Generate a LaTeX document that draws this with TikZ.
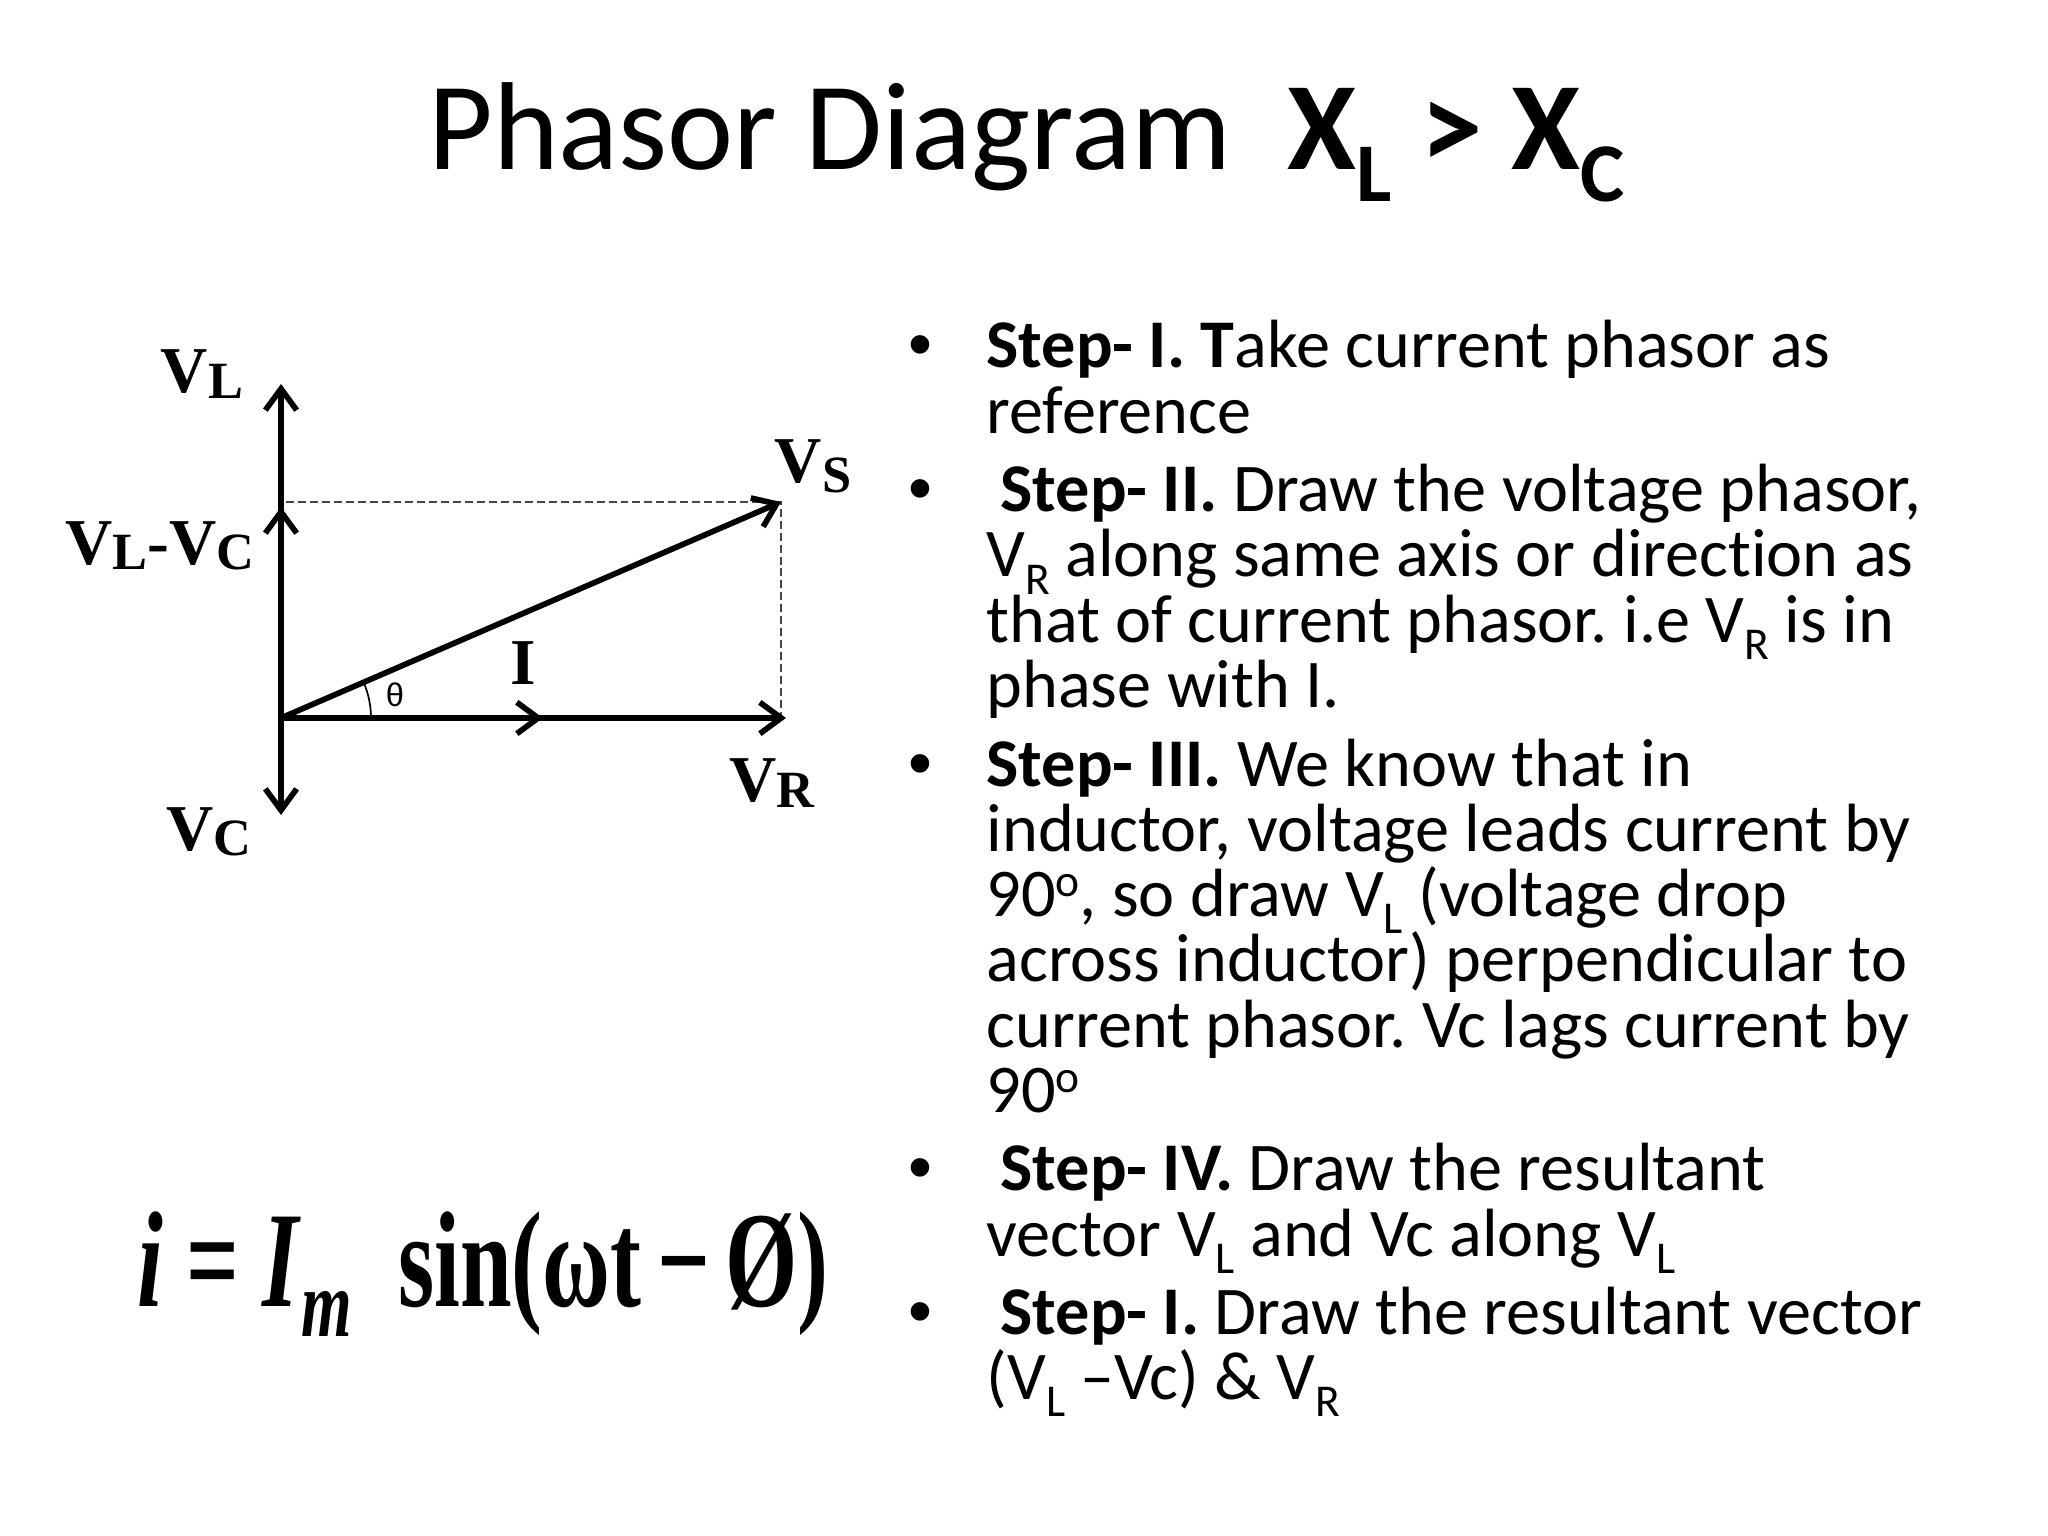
\documentclass[tikz,border=0pt]{standalone}
\usepackage{graphicx}
\usepackage{fontspec}
\setmainfont{Carlito}[Ligatures=NoCommon]
\newfontfamily\tnr{Liberation Serif}
\newfontfamily\arl{Liberation Sans}
\usetikzlibrary{arrows.meta}
\newcommand\psub[1]{\raisebox{-0.25em}{\scalebox{0.667}{#1}}}
\newcommand\psup[1]{\raisebox{0.3em}{\scalebox{0.667}{#1}}}
\newcommand\lsub[1]{\raisebox{-0.08em}{\scalebox{0.8}{#1}}}
\newcommand\bodyf{\fontsize{24}{23}\selectfont}
\newcommand\labf{\tnr\bfseries\fontsize{23}{23}\selectfont}
\frenchspacing
\tikzset{
  txt/.style={anchor=base west, inner sep=0pt, font=\bodyf},
  bul/.style={anchor=base west, inner sep=0pt, font=\arl\fontsize{24}{23}\selectfont},
  lab/.style={inner sep=0pt, font=\labf},
  ar/.style={line width=2pt, -{Straight Barb[length=7.5pt,width=11pt]}},
  dsh/.style={line width=1pt, draw=black!72, dash pattern=on 2.8pt off 1.4pt},
}
\begin{document}
\begin{tikzpicture}[x=0.3515625pt,y=-0.3515625pt]
\useasboundingbox (0,0) rectangle (2048,1536);
% title
\node[anchor=base west, inner sep=0pt, font=\fontsize{44}{44}\selectfont] (title) at (428,170)
  {Phasor Diagram\ \ \textbf{X\psub{L} > X\psub{C}}};
% body text
\node[bul] (b1) at (908,368) {•};
\node[txt] (l1) at (986,368) {\textbf{Step- I. T}ake current phasor as};
\node[txt] (l2) at (986,433.3) {reference};
\node[bul] (b2) at (908,511.7) {•};
\node[txt] (l3) at (1000,511.7) {\textbf{Step- II.} Draw the voltage phasor,};
\node[txt] (l4) at (986,577) {V\psub{R} along same axis or direction as};
\node[txt] (l5) at (986,642.3) {that of current phasor. i.e V\psub{R} is in};
\node[txt] (l6) at (986,707.6) {phase with I.};
\node[bul] (b3) at (908,786) {•};
\node[txt] (l7) at (986,786) {\textbf{Step- III.} We know that in};
\node[txt] (l8) at (986,851.3) {inductor, voltage leads current by};
\node[txt] (l9) at (986,916.6) {90\psup{o}, so draw V\psub{L} (voltage drop};
\node[txt] (l10) at (986,981.9) {across inductor) perpendicular to};
\node[txt] (l11) at (986,1047.2) {current phasor. Vc lags current by};
\node[txt] (l12) at (986,1112.5) {90\psup{o}};
\node[bul] (b4) at (908,1190.9) {•};
\node[txt] (l13) at (1000,1190.9) {\textbf{Step- IV.} Draw the resultant};
\node[txt] (l14) at (986,1256.2) {vector V\psub{L} and Vc along V\psub{L}};
\node[bul] (b5) at (908,1334.6) {•};
\node[txt] (l15) at (1000,1334.6) {\textbf{Step- I.} Draw the resultant vector};
\node[txt] (l16) at (986,1399.9) {(V\psub{L} –Vc) \& V\psub{R}};
% phasor diagram
\coordinate (O) at (281,718);
\coordinate (VLt) at (281,384);
\coordinate (VLVCt) at (281,507);
\coordinate (VCt) at (281,815);
\coordinate (VRt) at (786,718);
\coordinate (It) at (543,718);
\coordinate (VSt) at (781,502);
\coordinate (D1) at (286,502);
\draw[dsh] (D1) -- (VSt) -- (VSt |- O);
\draw[ar] (O) -- (VLt);
\draw[ar] (O) -- (VLVCt);
\draw[ar] (O) -- (VCt);
\draw[ar] (O) -- (VRt);
\draw[ar] (O) -- (It);
\draw[ar] (O) -- (VSt);
\draw[line width=0.6pt] (O) ++(90,0) arc[start angle=0, end angle=-23, radius=90];
\node[lab] (lVL) at (202,374) {V\lsub{L}};
\node[lab] (lVLVC) at (160,546) {V\lsub{L}-V\lsub{C}};
\node[lab] (lVS) at (813,466) {V\raisebox{-0.15em}{\scalebox{0.8}{S}}};
\node[lab] (lI) at (523,663) {I};
\node[inner sep=0pt, font=\arl\fontsize{11.5}{11.5}\selectfont] (lth) at (395,695) {θ};
\node[lab] (lVR) at (772,783) {V\lsub{R}};
\node[lab] (lVC) at (209,832) {V\lsub{C}};
% equation
\node[anchor=base west, inner sep=0pt, font=\tnr\bfseries\fontsize{48}{48}\selectfont] (eq) at (137,1306)
  {\scalebox{0.68}[1]{\textit{i} = \textit{I}\raisebox{-0.22em}{\scalebox{0.7}{\textit{m}}}\ \ sin(ωt\,−\,Ø)}};
\end{tikzpicture}
\end{document}
